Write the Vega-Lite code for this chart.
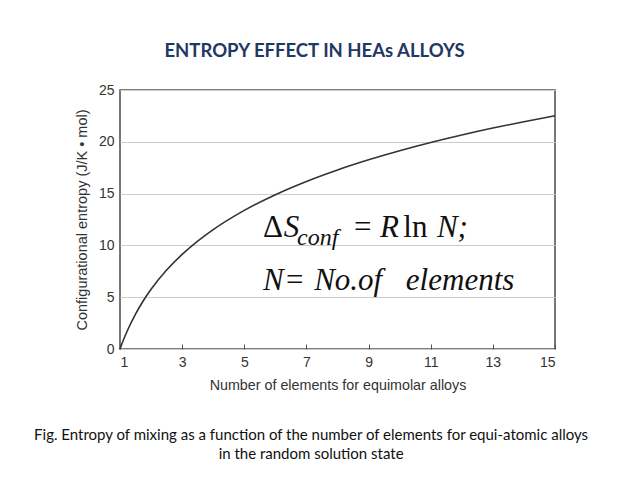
{
  "$schema": "https://vega.github.io/schema/vega-lite/v6.json",
  "autosize": "none",
  "width": 435,
  "height": 259,
  "padding": {"left": 120, "top": 90, "right": 83, "bottom": 129},
  "background": "white",
  "config": {
    "view": {"stroke": "#555555", "strokeWidth": 1.6},
    "font": "Liberation Sans"
  },
  "title": {
    "text": "ENTROPY EFFECT IN HEAs ALLOYS",
    "font": "Lato",
    "fontSize": 18.5,
    "fontWeight": "bold",
    "color": "#1f3864",
    "anchor": "middle",
    "dx": -23,
    "offset": 23
  },
  "datasets": {
    "curve": [
      {"n": 1, "s": 0},
      {"n": 1.02, "s": 0.165},
      {"n": 1.05, "s": 0.406},
      {"n": 1.1, "s": 0.792},
      {"n": 1.25, "s": 1.855},
      {"n": 1.5, "s": 3.371},
      {"n": 1.75, "s": 4.653},
      {"n": 2, "s": 5.763},
      {"n": 2.5, "s": 7.618},
      {"n": 3, "s": 9.134},
      {"n": 3.5, "s": 10.416},
      {"n": 4, "s": 11.526},
      {"n": 5, "s": 13.381},
      {"n": 6, "s": 14.897},
      {"n": 7, "s": 16.178},
      {"n": 8, "s": 17.289},
      {"n": 9, "s": 18.268},
      {"n": 10, "s": 19.144},
      {"n": 11, "s": 19.936},
      {"n": 12, "s": 20.66},
      {"n": 13, "s": 21.325},
      {"n": 14, "s": 21.941},
      {"n": 15, "s": 22.515}
    ],
    "eqUpright": [
      {"t": "Δ", "n": 5.6, "s": 10.8},
      {"t": "ln", "n": 10.12, "s": 10.8}
    ],
    "eqItalic": [
      {"t": "S", "n": 6.27, "s": 10.8},
      {"t": "=", "n": 8.47, "s": 10.8},
      {"t": "R", "n": 9.37, "s": 10.8},
      {"t": "N;", "n": 11.2, "s": 10.8},
      {"t": "N", "n": 5.6, "s": 5.7},
      {"t": "=", "n": 6.28, "s": 5.7},
      {"t": "No.of", "n": 7.25, "s": 5.7},
      {"t": "elements", "n": 10.2, "s": 5.7}
    ],
    "eqSub": [
      {"t": "conf", "n": 6.7, "s": 10.0}
    ],
    "caption": [
      {"t": "Fig. Entropy of mixing as a function of the number of elements for equi-atomic alloys", "n": 7.15, "s": -8.3},
      {"t": "in the random solution state", "n": 7.15, "s": -10.1}
    ]
  },
  "layer": [
    {
      "data": {"name": "curve"},
      "mark": {"type": "line", "color": "#333333", "strokeWidth": 1.6, "interpolate": "monotone"},
      "encoding": {
        "x": {
          "field": "n",
          "type": "quantitative",
          "scale": {"domain": [1, 15], "nice": false},
          "axis": {
            "title": "Number of elements for equimolar alloys",
            "values": [1, 3, 5, 7, 9, 11, 13, 15],
            "grid": false,
            "domain": false,
            "tickSize": -5,
            "tickColor": "#555555",
            "labelPadding": 11,
            "labelFontSize": 14,
            "labelColor": "#333333",
            "titleFontSize": 14.3,
            "titleFontWeight": "normal",
            "titleColor": "#333333",
            "titlePadding": 9
          }
        },
        "y": {
          "field": "s",
          "type": "quantitative",
          "scale": {"domain": [0, 25], "nice": false},
          "axis": {
            "title": "Configurational entropy (J/K • mol)",
            "values": [0, 5, 10, 15, 20, 25],
            "grid": true,
            "gridColor": "#cccccc",
            "gridWidth": 1.2,
            "domain": false,
            "ticks": false,
            "labelPadding": 6,
            "labelFontSize": 14,
            "labelColor": "#333333",
            "titleFontSize": 14.5,
            "titleFontWeight": "normal",
            "titleColor": "#333333",
            "titlePadding": 9
          }
        }
      }
    },
    {
      "data": {"name": "eqUpright"},
      "mark": {"type": "text", "font": "Liberation Serif", "fontSize": 31, "align": "left", "baseline": "alphabetic", "color": "#111111"},
      "encoding": {
        "x": {"field": "n", "type": "quantitative"},
        "y": {"field": "s", "type": "quantitative"},
        "text": {"field": "t"}
      }
    },
    {
      "data": {"name": "eqItalic"},
      "mark": {"type": "text", "font": "Liberation Serif", "fontStyle": "italic", "fontSize": 31, "align": "left", "baseline": "alphabetic", "color": "#111111"},
      "encoding": {
        "x": {"field": "n", "type": "quantitative"},
        "y": {"field": "s", "type": "quantitative"},
        "text": {"field": "t"}
      }
    },
    {
      "data": {"name": "eqSub"},
      "mark": {"type": "text", "font": "Liberation Serif", "fontStyle": "italic", "fontSize": 24, "align": "left", "baseline": "alphabetic", "color": "#111111"},
      "encoding": {
        "x": {"field": "n", "type": "quantitative"},
        "y": {"field": "s", "type": "quantitative"},
        "text": {"field": "t"}
      }
    },
    {
      "data": {"name": "caption"},
      "mark": {"type": "text", "font": "Lato", "fontSize": 15, "align": "center", "baseline": "middle", "color": "#111111", "clip": false},
      "encoding": {
        "x": {"field": "n", "type": "quantitative"},
        "y": {"field": "s", "type": "quantitative"},
        "text": {"field": "t"}
      }
    }
  ]
}
